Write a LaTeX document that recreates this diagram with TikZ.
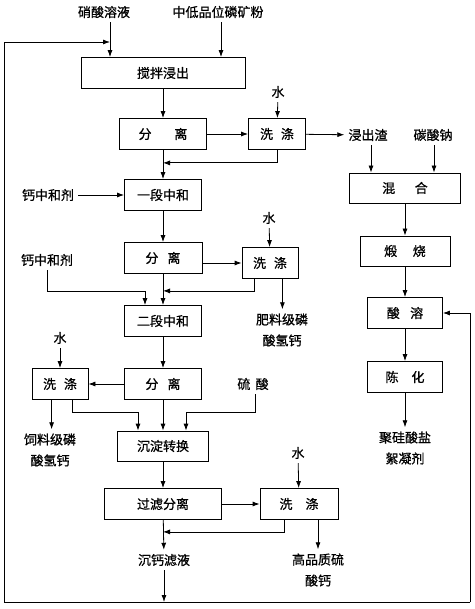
\documentclass[tikz,border=0pt]{standalone}
\usepackage{fontspec}
\newfontfamily\cjk[FakeBold=0.8]{Noto Sans CJK SC}
\usetikzlibrary{arrows.meta}
\begin{document}
\begin{tikzpicture}[x=1pt,y=-1pt,
  every node/.style={font=\cjk\fontsize{13}{21}\selectfont,inner sep=4pt,align=center},
  box/.style={draw,line width=0.8pt,minimum height=31pt,inner sep=2pt},
  arr/.style={-{Latex[length=7pt,width=5pt]},line width=0.8pt}]
\useasboundingbox (0,0) rectangle (474,609);
% feed and leaching
\node at (104,12) (xs) {硝酸溶液};\node at (218,12) (kf) {中低品位磷矿粉};
\node[box,minimum width=164pt] at (163,73) (jb) {搅拌浸出};
\node[box,minimum width=87pt] at (163,134) (fl1) {分\hspace{1.75em}离};
\node[box,minimum width=57pt] at (277,134) (xd1) {洗\hspace{0.6em}涤};
\node at (278,92) (s1) {水};
\node at (368,135) (jcz) {浸出渣};\node at (433,135) (tsn) {碳酸钠};
% first neutralisation
\node at (48,195) (gz1) {钙中和剂};
\node[box,minimum width=77pt] at (163,195) (zh1) {一段中和};
\node[box,minimum width=78pt] at (163,258) (fl2) {分\hspace{0.7em}离};
\node[box,minimum width=56pt] at (270,263) (xd2) {洗\hspace{0.6em}涤};
\node at (269,218) (s2) {水};
\node at (282,330) (fl) {肥料级磷\\酸氢钙};
% second neutralisation
\node at (47,260) (gz2) {钙中和剂};
\node[box,minimum width=77pt] at (163,321) (zh2) {二段中和};
\node[box,minimum width=77pt] at (163,384) (fl3) {分\hspace{0.7em}离};
\node[box,minimum width=56pt] at (60,384) (xd3) {洗\hspace{0.6em}涤};
\node at (60,338) (s3) {水};
\node at (253,384) (ls) {硫\hspace{0.4em}酸};
\node at (50,450) (sl) {饲料级磷\\酸氢钙};
% conversion
\node[box,minimum width=91pt,minimum height=30pt] at (163,446) (cd) {沉淀转换};
\node[box,minimum width=117pt] at (163,504) (gl) {过滤分离};
\node[box,minimum width=78pt] at (299,504) (xd4) {洗\hspace{1em}涤};
\node at (298,453) (s4) {水};
\node at (164,560) (lv) {沉钙滤液};
\node at (318,570) (gp) {高品质硫\\酸钙};
% flocculant line
\node[box,minimum width=111pt,minimum height=30pt] at (405,188) (hh) {混\hspace{1.5em}合};
\node[box,minimum width=90pt,minimum height=30pt] at (405,251) (ds) {煅\hspace{1.2em}烧};
\node[box,minimum width=75pt] at (405,313) (sr) {酸\hspace{0.8em}溶};
\node[box,minimum width=75pt] at (405,377) (ch) {陈\hspace{1em}化};
\node at (405,448) (jg) {聚硅酸盐\\絮凝剂};
% loop points
\coordinate (rt) at (110,42);\coordinate (bl) at (4,602);\coordinate (br) at (470,602);
\coordinate (j1) at (145,291);\coordinate (j2) at (138,412);\coordinate (j3) at (186,412);
% connectors
\draw[arr] (rt |- xs.south) -- (rt |- jb.north);
\draw[arr] ([xshift=3pt]kf.south) -- ([xshift=3pt]kf.south |- jb.north);
\draw[arr] (br) -- (bl) -- (bl |- rt) -- (rt);
\draw[arr] (jb) -- (fl1);\draw[arr] (fl1) -- (xd1);\draw[arr] (s1) -- (xd1);
\draw[arr] (xd1) -- (jcz);
\draw[arr] (xd1.south) |- ([yshift=-13pt]fl1.south);
\draw[arr] (fl1) -- (zh1);\draw[arr] (gz1) -- (zh1);
\draw[arr] (zh1) -- (fl2);\draw[arr] (fl2.east |- xd2.west) -- (xd2.west);\draw[arr] (s2) -- (xd2);
\draw[arr] ([xshift=13pt]xd2.south west) |- ([yshift=-17pt]fl2.south);
\draw[arr] ([xshift=-16pt]xd2.south east) -- ([xshift=-16pt]xd2.south east |- fl.north);
\draw[arr] (gz2.south) |- (j1) -- (j1 |- zh2.north);
\draw[arr] (fl2) -- (zh2);\draw[arr] (zh2) -- (fl3);
\draw[arr] (fl3) -- (xd3);\draw[arr] (s3) -- (xd3);
\draw[arr] ([xshift=20pt]xd3.south west) -- ([xshift=20pt]xd3.south west |- sl.north);
\draw[arr] ([xshift=-16pt]xd3.south east) |- (j2) -- (j2 |- cd.north);
\draw[arr] (fl3) -- (cd);
\draw[arr] ([xshift=2pt]ls.south) |- (j3) -- (j3 |- cd.north);
\draw[arr] (cd) -- (gl);\draw[arr] (gl) -- (xd4);\draw[arr] (s4) -- (xd4);
\draw[arr] ([xshift=-15pt]xd4.south) |- ([yshift=-12pt]gl.south);
\draw[arr] ([xshift=19pt]xd4.south) -- ([xshift=19pt]xd4.south |- gp.north);
\draw[arr] (gl) -- (lv);\draw[arr] (lv) -- (lv |- bl);
\draw[arr] ([xshift=3pt]jcz.south) -- ([xshift=3pt]jcz.south |- hh.north);
\draw[arr] ([xshift=1pt]tsn.south) -- ([xshift=1pt]tsn.south |- hh.north);
\draw[arr] (hh) -- (ds);\draw[arr] (ds) -- (sr);\draw[arr] (sr) -- (ch);\draw[arr] (ch) -- (jg);
\draw[arr] (br) -- (br |- sr.east) -- (sr.east);
\end{tikzpicture}
\end{document}
